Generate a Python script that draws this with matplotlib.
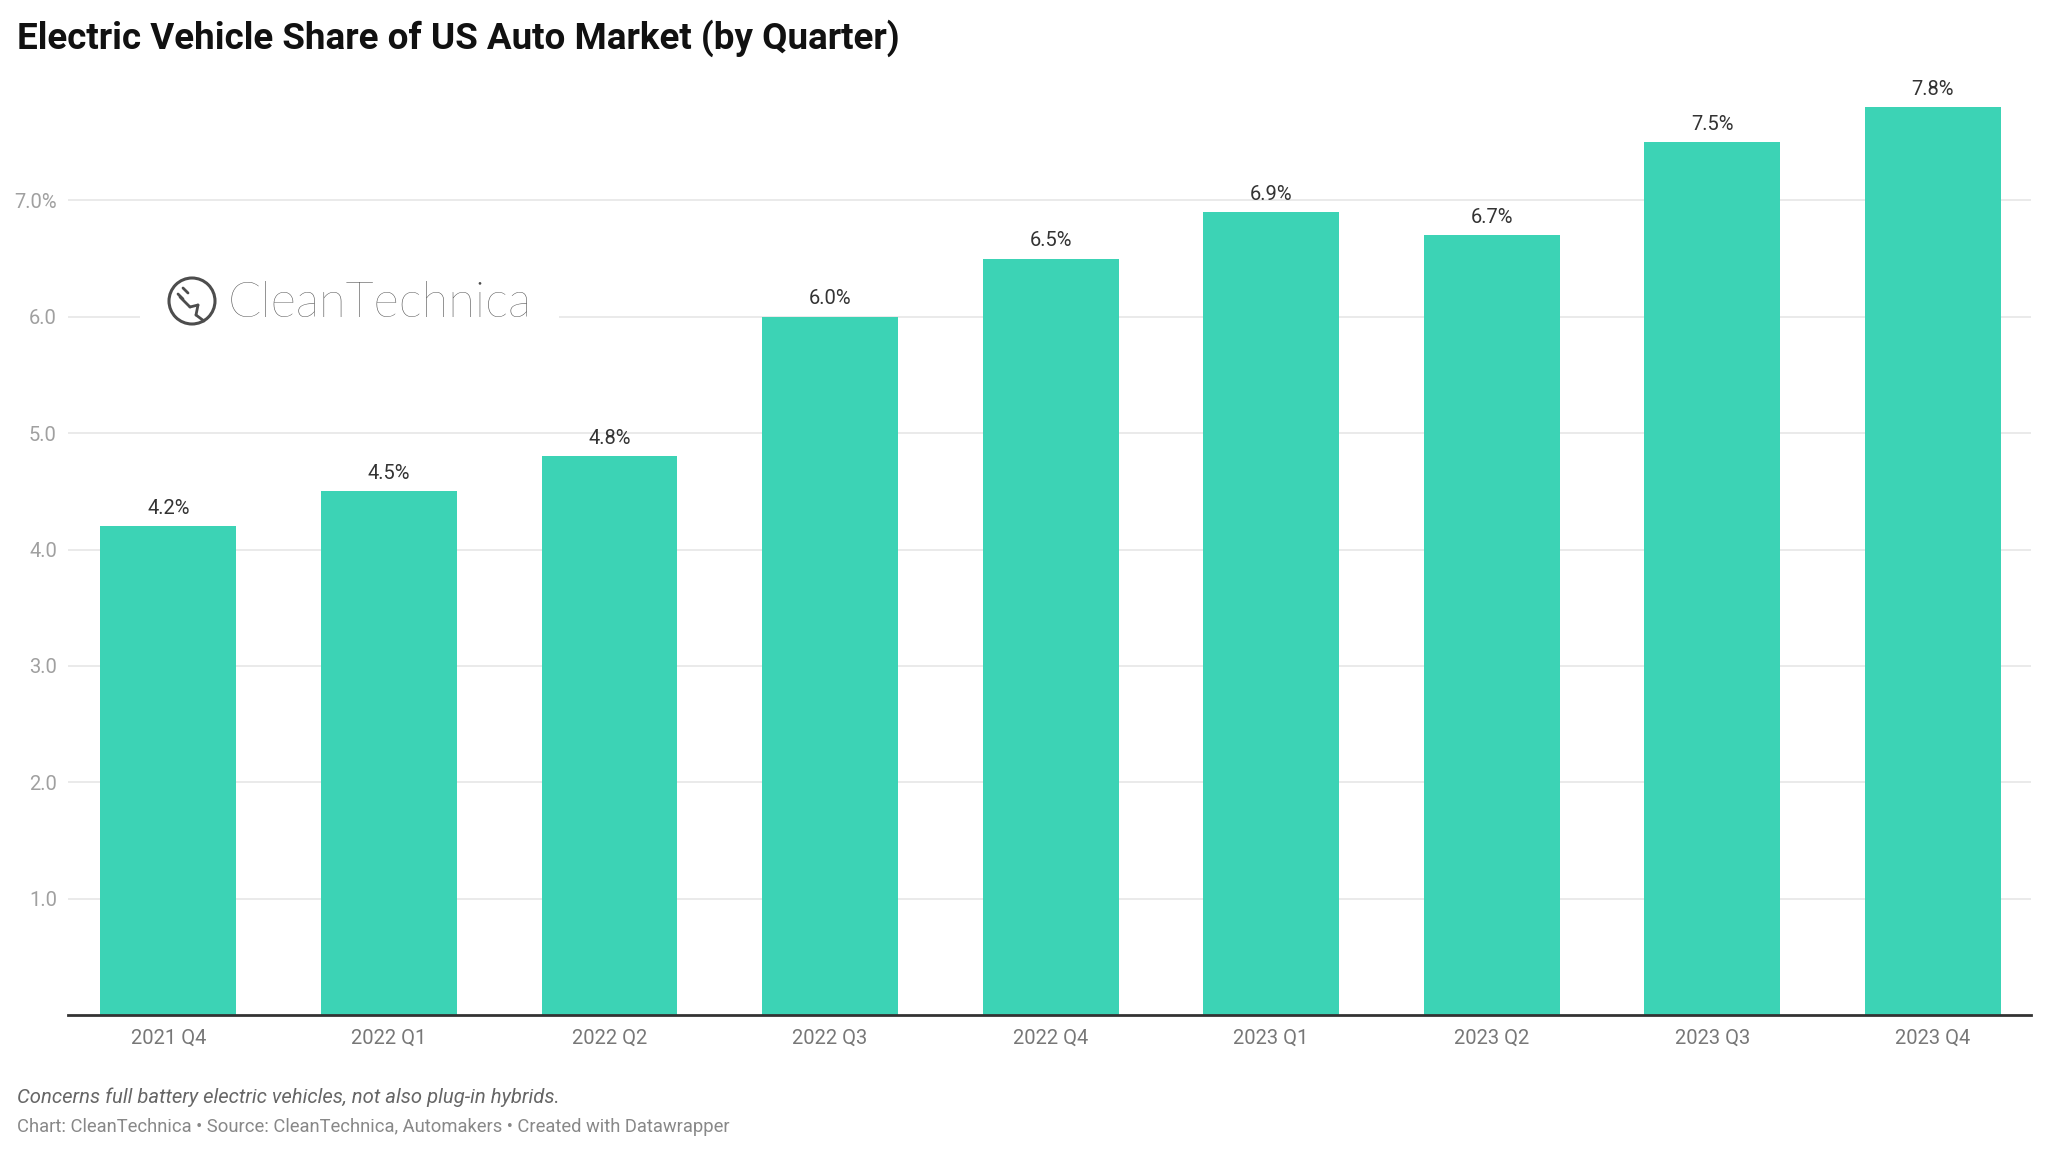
import matplotlib
matplotlib.use("Agg")
import matplotlib.pyplot as plt
from matplotlib.patches import Ellipse, Rectangle
from matplotlib.lines import Line2D

quarters = ["2021 Q4", "2022 Q1", "2022 Q2", "2022 Q3", "2022 Q4",
            "2023 Q1", "2023 Q2", "2023 Q3", "2023 Q4"]
ev_share = [4.2, 4.5, 4.8, 6.0, 6.5, 6.9, 6.7, 7.5, 7.8]
y_ticks = [1.0, 2.0, 3.0, 4.0, 5.0, 6.0, 7.0]
y_tick_labels = ["1.0", "2.0", "3.0", "4.0", "5.0", "6.0", "7.0%"]

title = "Electric Vehicle Share of US Auto Market (by Quarter)"
note = "Concerns full battery electric vehicles, not also plug-in hybrids."
credit = "Chart: CleanTechnica • Source: CleanTechnica, Automakers • Created with Datawrapper"

plt.rcParams['font.family'] = ['Roboto', 'DejaVu Sans']

W, H = 2048, 1153
fig = plt.figure(figsize=(W / 100, H / 100), dpi=100)

ax_left, ax_right = 68, 2031
ax_bottom, ax_top = 1015, 84
ax = fig.add_axes([ax_left / W, 1 - ax_bottom / H,
                   (ax_right - ax_left) / W, (ax_bottom - ax_top) / H])

x = list(range(len(quarters)))
bar_color = "#3cd3b5"
ax.bar(x, ev_share, width=0.616, color=bar_color, zorder=3)
ax.set_xlim(-0.455, len(quarters) - 1 + 0.445)
ax.set_ylim(0, 8.0)

for xi, v in zip(x, ev_share):
    ax.annotate(f"{v:.1f}%", (xi, v), xytext=(0, 6), textcoords="offset points",
                ha="center", va="bottom", fontsize=14.5, color="#333333", zorder=4)

ax.set_yticks(y_ticks)
ax.set_yticklabels(y_tick_labels)
ax.tick_params(axis="y", length=0, pad=8, labelsize=14.5, labelcolor="#a0a0a0")
ax.set_xticks(x)
ax.set_xticklabels(quarters)
ax.tick_params(axis="x", length=0, pad=10, labelsize=14.5, labelcolor="#777777")

ax.grid(axis="y", color="#e6e6e6", linewidth=1.2, zorder=0)
ax.grid(axis="x", visible=False)
for s in ["top", "right", "left"]:
    ax.spines[s].set_visible(False)
ax.spines["bottom"].set_color("#333333")
ax.spines["bottom"].set_linewidth(2)
ax.spines["bottom"].set_zorder(5)

# Logo
logo_bg = Rectangle((140 / W, 1 - 345 / H), (559 - 140) / W, (345 - 260) / H,
                    transform=fig.transFigure, facecolor="white", edgecolor="none", zorder=2)
ax.add_artist(logo_bg)
logo_bg.set_clip_on(False)
cx, cy, r = 192, 301, 23
fig.add_artist(Ellipse((cx / W, 1 - cy / H), 2 * r / W, 2 * r / H,
                       transform=fig.transFigure, fill=False,
                       edgecolor="#4d4d4d", linewidth=2.2))
def fl(x0, y0, x1, y1):
    fig.add_artist(Line2D([x0 / W, x1 / W], [1 - y0 / H, 1 - y1 / H],
                          transform=fig.transFigure, color="#4d4d4d",
                          linewidth=2, solid_capstyle="round"))
fl(cx - 12, cy - 4, cx - 2, cy + 6)
fl(cx - 9, cy - 13, cx - 4, cy - 8)
fl(cx - 14, cy - 7, cx - 9, cy - 2)
fl(cx - 2, cy + 6, cx + 6, cy + 4)
fl(cx + 6, cy + 4, cx + 4, cy + 14)
fl(cx + 4, cy + 14, cx + 12, cy + 20)

fig.text(228 / W, 1 - 304 / H, "CleanTechnica", ha="left", va="center",
         fontsize=35.3, color="#4d4d4d", fontweight="light",
         family=["Lato", "Roboto", "DejaVu Sans"])

fig.text(17 / W, 1 - 38 / H, title, ha="left", va="center", fontsize=26.5,
         fontweight="bold", color="#111111")
fig.text(17 / W, 1 - 1097 / H, note, ha="left", va="center", fontsize=14.6,
         style="italic", color="#666666")
fig.text(17 / W, 1 - 1127 / H, credit, ha="left", va="center", fontsize=13.2,
         color="#888888")

fig.savefig("out.png", dpi=100, facecolor="white")
